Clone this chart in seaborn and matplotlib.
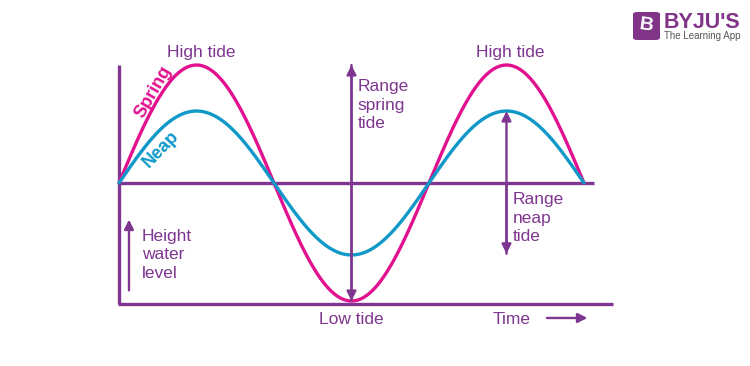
import numpy as np
import pandas as pd
import matplotlib
matplotlib.use("Agg")
import matplotlib.pyplot as plt
from matplotlib.patches import FancyBboxPatch
import seaborn as sns

# Tide curves: spring and neap amplitudes (relative to spring), over 1.5 cycles
phase_deg = np.linspace(0, 540, 541)
spring_amp = 1.0
neap_amp = 0.61
series_names = ["Spring", "Neap"]
amplitudes = [spring_amp, neap_amp]

# Annotations
high_tide_phases = [96, 454]
low_tide_phase = 270
neap_range_phase = 450

PURPLE = "#7e3690"
MAGENTA = "#e2118f"
BLUE = "#0f98c8"

sns.set_style("white")
plt.rcParams["font.family"] = ["Liberation Sans", "DejaVu Sans"]

rows = []
for name, amp in zip(series_names, amplitudes):
    rows.append(pd.DataFrame({"phase": phase_deg,
                              "height": amp * np.sin(np.radians(phase_deg)),
                              "tide": name}))
df = pd.concat(rows, ignore_index=True)

fig = plt.figure(figsize=(7.5, 3.66), dpi=100)
ax = fig.add_axes([0, 0, 1, 1])
ax.set_xlim(-138.2, 732.8)
ax.set_ylim(-1.551, 1.551)
ax.axis("off")

# axes lines
ax.plot([0, 0], [1.0, -1.025], color=PURPLE, lw=2.4, solid_capstyle="butt")
ax.plot([-1.5, 574], [-1.025, -1.025], color=PURPLE, lw=2.4, solid_capstyle="butt")
ax.plot([0, 552], [0, 0], color=PURPLE, lw=2.4, solid_capstyle="butt")

sns.lineplot(data=df, x="phase", y="height", hue="tide",
             palette={"Spring": MAGENTA, "Neap": BLUE},
             linewidth=2.4, legend=False, ax=ax, zorder=3)

def arrow(x0, y0, x1, y1):
    ax.annotate("", xy=(x1, y1), xytext=(x0, y0),
                arrowprops=dict(arrowstyle="-|>", color=PURPLE, lw=1.7,
                                mutation_scale=14, shrinkA=0, shrinkB=0),
                zorder=4)

# range arrows
arrow(low_tide_phase, -spring_amp, low_tide_phase, spring_amp)
arrow(low_tide_phase, spring_amp, low_tide_phase, -spring_amp)
arrow(neap_range_phase, -neap_amp + 0.01, neap_range_phase, neap_amp)
arrow(neap_range_phase, 0, neap_range_phase, -0.60)
arrow(11.6, -0.91, 11.6, -0.31)
arrow(497, -1.144, 544, -1.144)

fs = 12.5
for p in high_tide_phases:
    ax.text(p, 1.11, "High tide", color=PURPLE, fontsize=fs, ha="center", va="center")
ax.text(low_tide_phase, -1.161, "Low tide", color=PURPLE, fontsize=fs, ha="center", va="center")
ax.text(456, -1.161, "Time", color=PURPLE, fontsize=fs, ha="center", va="center")
ax.text(277.5, 0.66, "Range\nspring\ntide", color=PURPLE, fontsize=fs, ha="left",
        va="center", linespacing=1.3)
ax.text(457.6, -0.30, "Range\nneap\ntide", color=PURPLE, fontsize=fs, ha="left",
        va="center", linespacing=1.3)
ax.text(26.7, -0.61, "Height\nwater\nlevel", color=PURPLE, fontsize=fs, ha="left",
        va="center", linespacing=1.3)

ax.text(40, 0.77, "Spring", color=MAGENTA, fontsize=13, fontweight="bold",
        rotation=60, ha="center", va="center", rotation_mode="anchor")
ax.text(48.5, 0.29, "Neap", color=BLUE, fontsize=13, fontweight="bold",
        rotation=46, ha="center", va="center", rotation_mode="anchor")

# logo
W, H = 750, 366
box = FancyBboxPatch((633 / W, 1 - 40 / H), 27 / W, 28 / H,
                     boxstyle="round,pad=0,rounding_size=0.006",
                     transform=fig.transFigure, facecolor="#813588", edgecolor="none")
fig.patches.append(box)
fig.text(646.5 / W, 1 - 26 / H, "B", color="white", fontsize=14, fontweight="bold",
         ha="center", va="center", rotation=-8)
fig.text(664 / W, 1 - 22 / H, "BYJU'S", color="#813588", fontsize=15.5, fontweight="bold",
         ha="left", va="center")
fig.text(664.5 / W, 1 - 36 / H, "The Learning App", color="#555555", fontsize=7,
         ha="left", va="center")

fig.savefig("out.png", dpi=100)
